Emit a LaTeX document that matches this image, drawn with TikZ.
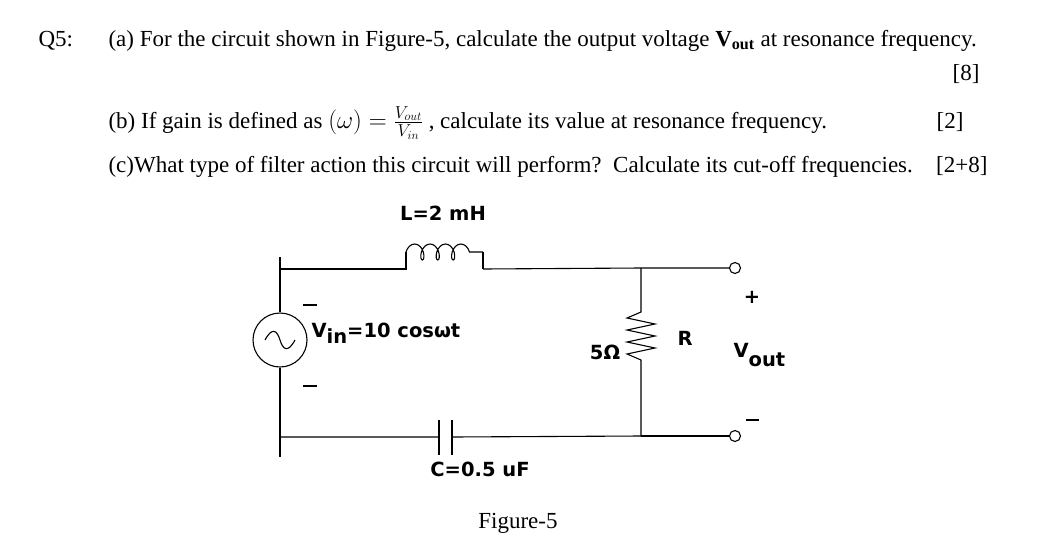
\documentclass[tikz,border=0pt]{standalone}
\usepackage{fontspec}
\setmainfont{Liberation Serif}
\newfontfamily\cirfont{DejaVu Sans}
\usetikzlibrary{decorations.pathmorphing}
\begin{document}
\begin{tikzpicture}[x=1pt,y=-1pt,line width=1.1pt,
  txt/.style={anchor=base west,inner sep=0,font=\fontsize{23}{26}\selectfont},
  lbl/.style={inner sep=0,font=\cirfont\bfseries\fontsize{19.5}{22}\selectfont},
  term/.style={circle,draw,inner sep=0,minimum size=11pt,fill=white}]
\useasboundingbox (0,0) rectangle (1054,552);
% text
\node[txt] (q) at (38,46) {Q5:};
\node[txt] (a) at (108,46) {(a) For the circuit shown in Figure-5, calculate the output voltage \textbf{V\textsubscript{out}} at resonance frequency.};
\node[txt,anchor=base east] (a8) at (980,80) {[8]};
\node[txt] (b) at (108,128) {(b) If gain is defined as $(\omega)=\frac{\scriptstyle V_{out}}{\scriptstyle V_{in}}$ , calculate its value at resonance frequency.};
\node[txt,anchor=base east] (b2) at (964,128) {[2]};
\node[txt] (c) at (108,172) {(c)What type of filter action this circuit will perform?\ \ Calculate its cut-off frequencies.};
\node[txt,anchor=base east] (c2) at (988,172) {[2+8]};
% circuit coordinates
\coordinate (tl) at (280,269);
\coordinate (bl) at (280,437);
\coordinate (Ls) at (406,269);
\coordinate (Le) at (483,269);
\coordinate (tr) at (641,268);
\coordinate (br) at (641,436);
\coordinate (C1) at (439,437);
\coordinate (C2) at (452,437);
\node[term] (o1) at (735,268) {};
\node[term] (o2) at (735,436) {};
\node[circle,draw,minimum size=54pt,inner sep=0,line width=1.1pt] (src) at (280,340) {};
\draw (280,257) -- (src.north);
\draw (src.south) -- (280,457);
\draw ([xshift=-15pt]src.center) .. controls (272,327) and (277,330) .. (280,340) .. controls (283,350) and (288,353) .. ([xshift=15pt]src.center);
\draw (tl) -- (Ls) -- (406,252);
\draw[decorate,decoration={coil,aspect=0.6,segment length=15.4pt,amplitude=8pt,pre length=0pt,post length=0pt}] (406,252) -- (483,252);
\draw (483,252) -- (Le);
\draw (Le) -- (tr) -- (o1);
\draw (tr) -- (641,312) -- ++(-14,6) -- ++(28,6) -- ++(-28,6) -- ++(28,6) -- ++(-28,6) -- ++(28,6) -- ++(-28,6) -- ++(14,6) -- (br);
\draw (br) -- (o2);
\draw (bl) -- (C1) (C2) -- (br);
\draw (439,420) -- (439,455) (452,420) -- (452,455);
% labels
\node[lbl] (Lt) at (443,213) {L=2 mH};
\node[lbl] (Ct) at (480,469) {C=0.5 uF};
\node[lbl,anchor=west] (vin) at (311,333) {V\raisebox{-6pt}{in}=10 cosωt};
\node[lbl] (ohm) at (605,352) {5Ω};
\node[lbl] (R) at (685,338) {R};
\node[lbl] (pl) at (752,297) {+};
\node[lbl,anchor=west] (vo) at (733,355) {V\raisebox{-9pt}{out}};
\draw (303,305) -- (317,305) (303,386) -- (317,386) (746,420) -- (759,420);
\node[txt,anchor=base] (fig) at (518,528) {Figure-5};
\end{tikzpicture}
\end{document}
